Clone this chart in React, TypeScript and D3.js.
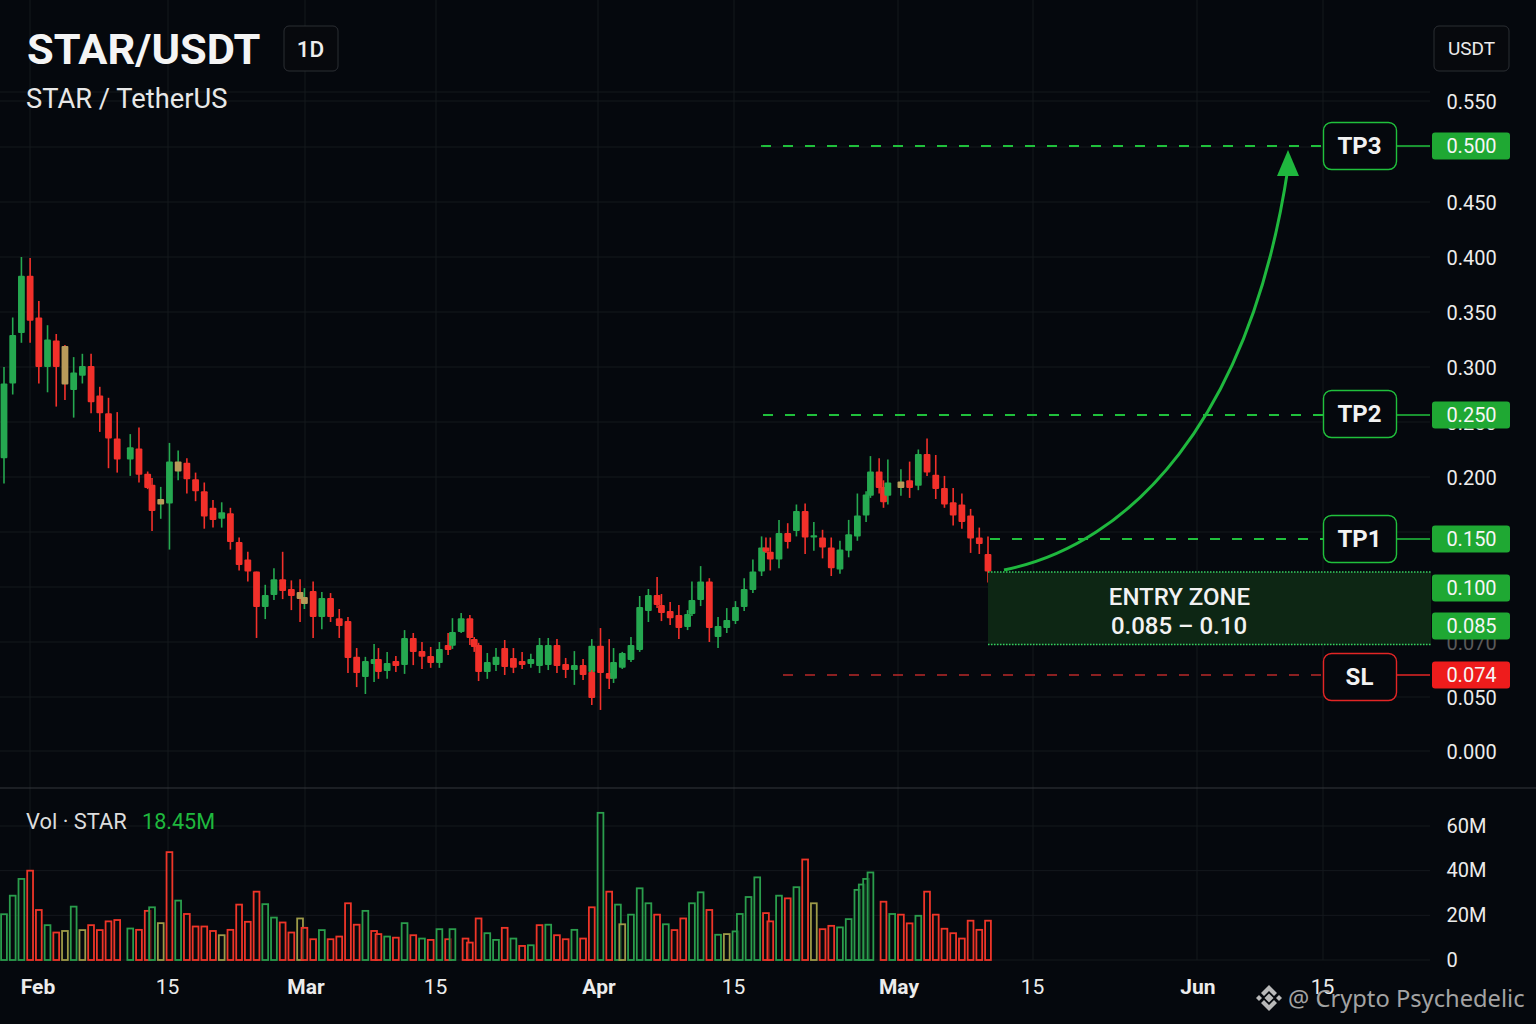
import React from 'react';
import * as d3 from 'd3';

const FONT = 'Roboto, sans-serif';
const W = 1536;
const H = 1024;

// --- axis ticks, as printed in the picture (the price axis is not evenly spaced)
const priceTicks = [0, 0.05, 0.07, 0.1, 0.15, 0.2, 0.25, 0.3, 0.35, 0.4, 0.45, 0.5, 0.55];
const priceTickY = [751, 697, 642, 587, 532, 477, 422, 367, 312, 257, 202, 147, 101];
const volumeTicks = [0, 20, 40, 60];
const volumeTickLabels = ['0', '20M', '40M', '60M'];
const dateTicks = ['2025-02-01', '2025-02-15', '2025-03-01', '2025-03-15', '2025-04-01', '2025-04-15', '2025-05-01', '2025-05-15', '2025-06-01', '2025-06-15'];
const dateTickLabels = ['Feb', '15', 'Mar', '15', 'Apr', '15', 'May', '15', 'Jun', '15'];
const dateTickX = [30, 168, 305, 436, 598, 734, 898, 1033, 1197, 1323];

// --- candles: slot = position in the bar sequence
const candleSlot = [
  0, 1, 2, 3, 4, 5, 6, 7, 8, 9, 10, 11, 12, 13, 14.5, 15.5, 16.5, 17, 18, 19,
  20, 21, 22, 23, 24, 25, 26, 27, 28, 29, 30, 31, 32, 33, 34, 34.5, 35.5, 36.5, 37.5, 38.5,
  39.5, 40.5, 41.5, 42.5, 43, 44, 45, 46, 47, 48, 49, 50, 51, 51.5, 52.5, 53.5, 54, 54.5, 55.5, 56.5,
  57.5, 58.5, 59.5, 60.5, 61.5, 62.5, 63.5, 64.5, 65.5, 66.5, 67.5, 67.5, 68.5, 69.5, 70, 71, 72, 73, 74, 75,
  75.5, 76.5, 77.5, 78.5, 79, 80, 81, 82, 83, 84, 85, 86, 87, 87.5, 88, 89, 90, 91, 92, 93,
  94, 95, 96, 97, 98, 99, 99.5, 100.5, 101, 101.5, 103, 104, 105, 106, 107, 108, 109, 110, 111, 112, 113,
];
const candleOpen = [
  0.217, 0.285, 0.331, 0.383, 0.345, 0.3, 0.324, 0.319, 0.279, 0.292, 0.301, 0.274, 0.258, 0.235, 0.216, 0.226, 0.203, 0.193, 0.175, 0.176,
  0.205, 0.213, 0.198, 0.187, 0.172, 0.162, 0.167, 0.141, 0.125, 0.114, 0.0891, 0.0956, 0.107, 0.0989, 0.0973, 0.0907, 0.0978, 0.0836, 0.094, 0.083,
  0.0814, 0.0646, 0.0573, 0.062, 0.0638, 0.0595, 0.0631, 0.0616, 0.0722, 0.0667, 0.0649, 0.0624, 0.0689, 0.0686, 0.0755, 0.083, 0.0716, 0.0689, 0.0591, 0.0616,
  0.0678, 0.0642, 0.0631, 0.062, 0.0613, 0.0616, 0.0689, 0.062, 0.0598, 0.0616, 0.0591, 0.0591, 0.0686, 0.0587, 0.0566, 0.0606, 0.0635, 0.0671, 0.0869, 0.0956,
  0.0902, 0.0869, 0.0847, 0.0782, 0.0853, 0.0929, 0.105, 0.0727, 0.0776, 0.0814, 0.0891, 0.0983, 0.114, 0.136, 0.132, 0.125, 0.149, 0.151, 0.169, 0.145,
  0.145, 0.136, 0.116, 0.133, 0.146, 0.165, 0.183, 0.205, 0.191, 0.183, 0.19, 0.197, 0.192, 0.221, 0.202, 0.19, 0.177, 0.175, 0.165, 0.145, 0.13,
];
const candleClose = [
  0.285, 0.329, 0.383, 0.342, 0.3, 0.325, 0.3, 0.284, 0.295, 0.301, 0.268, 0.258, 0.235, 0.216, 0.227, 0.202, 0.19, 0.169, 0.18, 0.214,
  0.214, 0.198, 0.187, 0.164, 0.161, 0.168, 0.141, 0.12, 0.114, 0.0891, 0.0956, 0.107, 0.0978, 0.0951, 0.0934, 0.0945, 0.0836, 0.094, 0.0836, 0.0787,
  0.0642, 0.0587, 0.0631, 0.0638, 0.0591, 0.0624, 0.0613, 0.0722, 0.0664, 0.0646, 0.0624, 0.0675, 0.0671, 0.0755, 0.083, 0.0722, 0.0682, 0.0591, 0.0627, 0.0646,
  0.0609, 0.0606, 0.0616, 0.0638, 0.0689, 0.0689, 0.0613, 0.0598, 0.0616, 0.058, 0.0686, 0.0491, 0.0587, 0.0566, 0.0627, 0.066, 0.0689, 0.0891, 0.0956, 0.0902,
  0.0858, 0.083, 0.0776, 0.0853, 0.0929, 0.105, 0.0776, 0.0787, 0.082, 0.0891, 0.0989, 0.114, 0.136, 0.132, 0.125, 0.149, 0.141, 0.169, 0.145, 0.147,
  0.136, 0.117, 0.134, 0.148, 0.165, 0.184, 0.205, 0.19, 0.177, 0.195, 0.196, 0.19, 0.221, 0.204, 0.189, 0.175, 0.165, 0.159, 0.144, 0.139, 0.114,
];
const candleHigh = [
  0.3, 0.345, 0.4, 0.399, 0.36, 0.338, 0.33, 0.32, 0.309, 0.312, 0.312, 0.282, 0.272, 0.259, 0.239, 0.245, 0.205, 0.199, 0.191, 0.231,
  0.224, 0.217, 0.204, 0.195, 0.179, 0.177, 0.172, 0.145, 0.132, 0.114, 0.102, 0.117, 0.132, 0.106, 0.107, 0.0994, 0.105, 0.0973, 0.0967, 0.088,
  0.0836, 0.0678, 0.0646, 0.0693, 0.0678, 0.0664, 0.0649, 0.0765, 0.0749, 0.07, 0.0682, 0.07, 0.0749, 0.083, 0.0858, 0.0847, 0.0727, 0.0697, 0.066, 0.0678,
  0.0711, 0.0678, 0.0664, 0.0657, 0.0722, 0.0722, 0.0716, 0.0642, 0.0667, 0.0638, 0.0716, 0.0598, 0.0776, 0.0716, 0.0678, 0.0664, 0.0727, 0.0951, 0.0989, 0.109,
  0.0962, 0.0918, 0.0902, 0.0874, 0.105, 0.119, 0.108, 0.0836, 0.0885, 0.0923, 0.108, 0.125, 0.146, 0.145, 0.145, 0.161, 0.158, 0.175, 0.176, 0.159,
  0.152, 0.145, 0.142, 0.161, 0.185, 0.187, 0.219, 0.217, 0.197, 0.216, 0.207, 0.214, 0.225, 0.235, 0.22, 0.201, 0.19, 0.185, 0.171, 0.154, 0.146,
];
const candleLow = [
  0.194, 0.275, 0.322, 0.322, 0.285, 0.277, 0.264, 0.27, 0.254, 0.285, 0.258, 0.241, 0.208, 0.204, 0.201, 0.195, 0.189, 0.151, 0.162, 0.134,
  0.197, 0.185, 0.178, 0.153, 0.154, 0.154, 0.134, 0.115, 0.105, 0.0722, 0.0825, 0.0929, 0.0934, 0.0874, 0.0809, 0.088, 0.0722, 0.077, 0.0809, 0.0722,
  0.0587, 0.0536, 0.0511, 0.0555, 0.0566, 0.0566, 0.0591, 0.0584, 0.0616, 0.0602, 0.0606, 0.0606, 0.0653, 0.0675, 0.0749, 0.0689, 0.0664, 0.0558, 0.0566, 0.0595,
  0.058, 0.0587, 0.0602, 0.0606, 0.0587, 0.0598, 0.0587, 0.0569, 0.0544, 0.0562, 0.0587, 0.0426, 0.038, 0.0529, 0.0551, 0.0602, 0.0627, 0.0664, 0.0809, 0.0885,
  0.0814, 0.0793, 0.0716, 0.0765, 0.0842, 0.0896, 0.07, 0.0678, 0.0749, 0.0798, 0.0869, 0.0967, 0.11, 0.131, 0.115, 0.117, 0.135, 0.146, 0.13, 0.133,
  0.126, 0.11, 0.112, 0.127, 0.142, 0.159, 0.181, 0.185, 0.172, 0.175, 0.183, 0.181, 0.188, 0.201, 0.18, 0.172, 0.156, 0.153, 0.131, 0.13, 0.104,
];
// candles that read as a washed tan colour in the picture
const tanCandles = [7, 18, 20, 34, 35, 110];

// --- volume, in millions
const volumeSlot = [
  0, 1, 2, 3, 4, 5, 6, 7, 8, 9,
  10, 11, 12, 13, 14.5, 15.5, 16.5, 17, 18, 19,
  20, 21, 22, 23, 24, 25, 26, 27, 28, 29,
  30, 31, 32, 33, 34, 34.5, 35.5, 36.5, 37.5, 38.5,
  39.5, 40.5, 41.5, 42.5, 43, 44, 45, 46, 47, 48,
  49, 50, 51, 51.5, 53, 53.5, 54.5, 55.5, 56.5, 57.5,
  58.5, 59.5, 60.5, 61.5, 62.5, 63.5, 64.5, 65.5, 66.5, 67.5,
  68.5, 69.5, 70.5, 71, 72, 73, 74, 75, 76, 77,
  78, 79, 80, 81, 82, 83, 84, 84.5, 85.5, 86.5,
  87.5, 88, 89, 90, 91, 92, 93, 94, 95, 96,
  97, 98, 98.5, 99, 99.5, 101, 102, 103, 104, 105,
  106, 107, 108, 109, 110, 111, 112, 113,
];
const volumeValue = [
  20.5, 28.8, 36.3, 40, 22.4, 15.6, 12.3, 13, 23.9, 13.4,
  15.6, 13.4, 17.3, 17.9, 14.1, 13.5, 22, 23.6, 16.5, 48.3,
  26.6, 20.6, 15, 15, 13, 11.1, 13.5, 24.8, 17.1, 30.6,
  25, 19, 16.8, 12.3, 18.6, 14.4, 9.3, 13.4, 9.3, 10.5,
  25.4, 15.8, 22, 13, 11.6, 10.5, 10, 16.5, 11.1, 9.6,
  9, 13.8, 9.3, 13.8, 9.6, 7.8, 18.6, 12, 9, 14.4,
  9.6, 6.3, 6.6, 15.6, 15.8, 11.1, 9.3, 13.5, 9.6, 23.6,
  65.9, 30.6, 24.8, 16, 20.3, 32.1, 25.4, 20.3, 16, 13.4,
  18.6, 25.4, 30.3, 22.4, 11.3, 11.6, 12.8, 20.6, 28.2, 37,
  21, 17.3, 28.8, 27.6, 32.6, 45, 25.4, 13.8, 15.3, 14.6,
  18.3, 31.4, 33.8, 36.3, 39.2, 26.1, 20.6, 20.3, 16.4, 19.8,
  30.6, 20.3, 14, 12, 9.6, 17.6, 13.5, 17.6,
];
// G up, R down, M mixed
const volumeSide = (
  'GGGRRGRMGM' + 'RRRRGRRGMR' + 'GRRRRMRRRR' + 'GGRRMRRGRR' + 'RRGRRGRGRG' + 'RGRGRRRGGR' +
  'GRGRGRRGRR' + 'GRGMGGGRGR' + 'RGGRGMGGGG' + 'RRGRGRMRRG' + 'GGGGGRGRRG' + 'RRRRRRRR'
).split('');

// --- trade levels
const levelPrices = [0.5, 0.25, 0.15, 0.1, 0.085, 0.074];
const levelLabels = ['0.500', '0.250', '0.150', '0.100', '0.085', '0.074'];
const targetNames = ['TP3', 'TP2', 'TP1', 'SL'];
const targetPrices = [0.5, 0.25, 0.15, 0.074];
const targetLineStart = [761, 763, 990, 783];
const targetBoxOffset = [0, -1, 0, 2];

const GREEN = '#20c03c';
const RED = '#e32525';
const UP = '#25a850';
const DOWN = '#f2302a';
const TAN = '#b89a5a';
const SIDE_COLOR: Record<string, string> = { G: '#2a9d4c', R: '#ee3528', M: '#9d9a48' };
const GRID = '#15181d';
const TEXT = '#ececec';

const x = d3.scaleLinear().domain([0, 113]).range([4, 988]);
const y = d3.scaleLinear().domain(priceTicks).range(priceTickY);
const levelY = d3.scaleLinear().domain([0.074, 0.085, 0.1, 0.15, 0.25, 0.5]).range([675, 626, 588, 539, 415, 146]);
const volY = d3.scaleLinear().domain([0, 60]).range([960, 826]);
const dateX = d3.scaleTime().domain(dateTicks.map((d) => new Date(d))).range(dateTickX);

const arrowPath = d3.path();
arrowPath.moveTo(1004, 570);
arrowPath.bezierCurveTo(1130, 545, 1250, 420, 1288, 168);

const Candles = () => (
  <g>
    {candleSlot.map((slot, i) => {
      const up = candleClose[i] >= candleOpen[i];
      const tan = tanCandles.includes(i);
      const color = up ? UP : DOWN;
      const top = y(Math.max(candleOpen[i], candleClose[i]));
      const bottom = y(Math.min(candleOpen[i], candleClose[i]));
      return (
        <g key={i}>
          <line x1={x(slot)} x2={x(slot)} y1={y(candleHigh[i])} y2={y(candleLow[i])} stroke={color} strokeWidth={1.6} />
          <rect x={x(slot) - 3.4} y={top} width={6.8} height={Math.max(bottom - top, 2)} rx={1} fill={tan ? TAN : color} />
        </g>
      );
    })}
  </g>
);

const Volumes = () => (
  <g>
    {volumeSlot.map((slot, i) => (
      <rect
        key={i}
        x={x(slot) - 2.9}
        y={volY(volumeValue[i])}
        width={5.8}
        height={volY(0) - volY(volumeValue[i])}
        fill="#070a0e"
        fillOpacity={0.6}
        stroke={SIDE_COLOR[volumeSide[i]]}
        strokeWidth={1.8}
      />
    ))}
  </g>
);

const BinanceMark = () => (
  <g transform="translate(1269,998)" fill="#b9b9b9">
    <path d="M0,-4.5L4.5,0L0,4.5L-4.5,0Z" />
    <path d="M-10,-3L-7,0L-10,3L-13,0Z" />
    <path d="M10,-3L13,0L10,3L7,0Z" />
    <path d="M0,-13L8,-5L5,-2L0,-7L-5,-2L-8,-5Z" />
    <path d="M0,13L8,5L5,2L0,7L-5,2L-8,5Z" />
  </g>
);

export default function App() {
  return (
    <svg width={W} height={H} viewBox={`0 0 ${W} ${H}`} style={{ position: 'absolute', left: 0, top: 0, fontFamily: FONT }}>
      <rect width={W} height={H} fill="#05080d" />

      {/* grid */}
      {priceTicks.map((t) => (
        <line key={t} x1={0} x2={1430} y1={y(t)} y2={y(t)} stroke={GRID} />
      ))}
      <line x1={0} x2={1430} y1={92} y2={92} stroke={GRID} />
      {volumeTicks.map((t) => (
        <line key={t} x1={0} x2={1430} y1={volY(t)} y2={volY(t)} stroke={GRID} />
      ))}
      {dateTicks.map((d) => (
        <line key={d} x1={dateX(new Date(d))} x2={dateX(new Date(d))} y1={0} y2={960} stroke={GRID} />
      ))}
      <line x1={0} x2={W} y1={788} y2={788} stroke="#34373c" />

      {/* price axis: 0.150 and 0.500 sit fully behind their tags in the picture */}
      {priceTicks.filter((t) => t !== 0.15 && t !== 0.5).map((t) => (
        <text key={t} x={1446.5} y={y(t) + 8} fontSize={20} fill={t === 0.07 ? '#5a5a5a' : TEXT}>
          {t.toFixed(3)}
        </text>
      ))}

      <Volumes />
      <Candles />

      {/* target lines */}
      {targetNames.map((name, i) => (
        <line
          key={name}
          x1={targetLineStart[i]}
          x2={1323}
          y1={levelY(targetPrices[i])}
          y2={levelY(targetPrices[i])}
          stroke={name === 'SL' ? '#b92828' : GREEN}
          strokeWidth={name === 'SL' ? 1.5 : 1.8}
          strokeDasharray="10 12"
        />
      ))}

      {/* entry zone */}
      <rect x={988} y={572} width={443} height={73} fill="#0d2614" />
      <line x1={988} x2={1431} y1={572} y2={572} stroke="#35d060" strokeWidth={1.4} strokeDasharray="1.5 1.5" />
      <line x1={988} x2={1431} y1={644.5} y2={644.5} stroke="#35d060" strokeWidth={1.4} strokeDasharray="1.5 1.5" />
      <text x={1179.5} y={605} textAnchor="middle" fontSize={24} fontWeight={500} fill="#f2f2f2">ENTRY ZONE</text>
      <text x={1179} y={634} textAnchor="middle" fontSize={24} fontWeight={500} fill="#f2f2f2">0.085 – 0.10</text>

      {/* arrow */}
      <path d={arrowPath.toString()} fill="none" stroke="#1fb83e" strokeWidth={3} />
      <path d="M1288,150L1299,176L1277,176Z" fill="#1fb83e" />

      {/* target boxes */}
      {targetNames.map((name, i) => {
        const cy = levelY(targetPrices[i]);
        const color = name === 'SL' ? RED : GREEN;
        return (
          <g key={name}>
            <line x1={1396} x2={1430} y1={cy} y2={cy} stroke={color} strokeWidth={1.5} />
            <rect x={1323.5} y={cy + targetBoxOffset[i] - 23.5} width={73} height={47} rx={8} fill="#05080d" stroke={color} strokeWidth={1.4} />
            <text x={1359.5} y={cy + targetBoxOffset[i] + 8} textAnchor="middle" fontSize={24} fontWeight={700} fill="#f2f2f2">
              {name}
            </text>
          </g>
        );
      })}

      {/* price tags */}
      {levelPrices.map((p, i) => (
        <g key={p}>
          <rect x={1432} y={levelY(p) - 13.5} width={78} height={27} rx={3} fill={p === 0.074 ? '#ee1c1c' : '#1fa833'} />
          <text x={1471.5} y={levelY(p) + 7} textAnchor="middle" fontSize={20} fill="#f6f6f6">{levelLabels[i]}</text>
        </g>
      ))}

      {/* header */}
      <text x={27} y={64} fontSize={43.4} fontWeight={700} fill="#f4f4f4">STAR/USDT</text>
      <text x={26} y={108} fontSize={27.3} fill="#e8e8e8">STAR / TetherUS</text>
      <rect x={284} y={26} width={54} height={45} rx={5} fill="#07090d" stroke="#2b2e33" />
      <text x={310.5} y={57} textAnchor="middle" fontSize={22.5} fontWeight={500} fill="#eeeeee">1D</text>
      <rect x={1434} y={26} width={75} height={45} rx={5} fill="#07090d" stroke="#2b2e33" />
      <text x={1471.5} y={55} textAnchor="middle" fontSize={19} fill={TEXT}>USDT</text>

      {/* volume header and axis */}
      <text x={26} y={829} fontSize={21.9} fill="#dddddd">Vol · STAR</text>
      <text x={142} y={829} fontSize={21.6} fill="#1fb83e">18.45M</text>
      {volumeTicks.map((t, i) => (
        <text key={t} x={1446.5} y={volY(t) + 6.5} fontSize={20} fill={TEXT}>{volumeTickLabels[i]}</text>
      ))}

      {/* date axis */}
      {dateTicks.map((d, i) => {
        const month = dateTickLabels[i] !== '15';
        return (
          <text
            key={d}
            x={i === 0 ? 38 : dateX(new Date(d)) + (month ? 1 : -0.5)}
            y={994}
            textAnchor="middle"
            fontSize={21}
            fontWeight={month ? 700 : 400}
            fill={TEXT}
          >
            {dateTickLabels[i]}
          </text>
        );
      })}

      {/* watermark */}
      <BinanceMark />
      <text x={1288} y={1007} fontFamily="'Noto Sans', sans-serif" fontSize={23.7} fill="#a3a3a3">@ Crypto Psychedelic</text>
    </svg>
  );
}
